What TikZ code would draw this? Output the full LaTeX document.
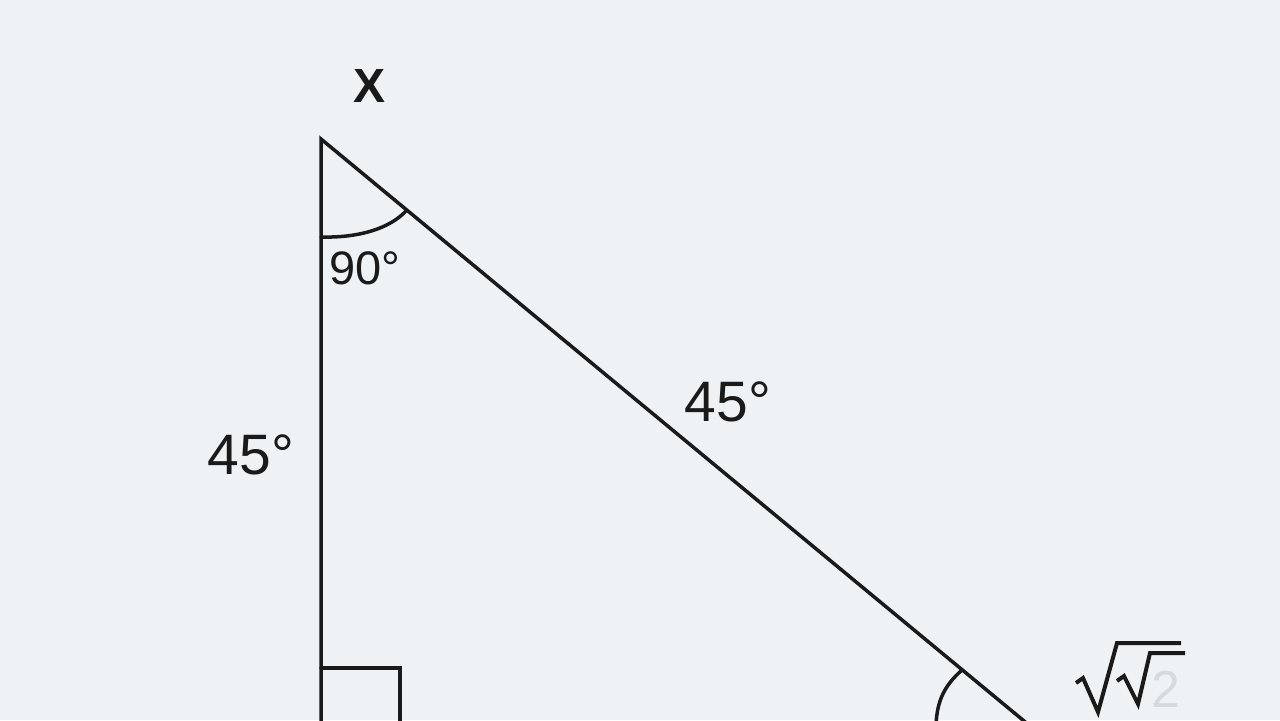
\documentclass[tikz,border=0pt]{standalone}
\usepackage{fontspec}
\setmainfont{Liberation Sans}
\definecolor{bgc}{HTML}{EEF2F5}
\definecolor{ink}{HTML}{1A1A1A}
\definecolor{faint}{HTML}{D6DADE}
\begin{document}
\begin{tikzpicture}[x=0.5pt,y=-0.5pt,
  edge/.style={draw=ink,line width=1.75pt,line cap=round,line join=miter},
  radical/.style={draw=ink,line width=2pt,line cap=butt,line join=miter},
  lbl/.style={text=ink,font=\fontsize{28.5}{30}\selectfont,inner sep=0pt}]
\fill[bgc] (0,0) rectangle (1280,720);
\useasboundingbox (0,0) rectangle (1280,720);
\clip (0,0) rectangle (1280,720);
\coordinate (A) at (321,139);
\coordinate (B) at (321,740);
\coordinate (C) at (1047,740);
\draw[edge] (B) -- (A) -- (C);
\draw[edge] (321,668) -- (400,668) -- (400,725);
\draw[edge] (321,237) .. controls (360,238) and (390,228) .. (406,211);
\draw[edge] (962,670) .. controls (945,685) and (937,700) .. (936,725);
\node[lbl,font=\fontsize{24}{26}\selectfont\bfseries] (X) at (370,86) {X};
\node[lbl,font=\fontsize{23.5}{26}\selectfont] (a90) at (365,268) {90°};
\node[lbl] (l45) at (251,455) {45°};
\node[lbl] (h45) at (728,402) {45°};
\node[text=faint,inner sep=0pt,font=\fontsize{26}{28}\selectfont] (two) at (1166,689) {2};
\draw[radical] (1076,683) -- (1083,678) -- (1098,712) -- (1117,643) -- (1181,643);
\draw[radical] (1117,681) -- (1124,676) -- (1138,704) -- (1150,653) -- (1185,653);
\end{tikzpicture}
\end{document}
